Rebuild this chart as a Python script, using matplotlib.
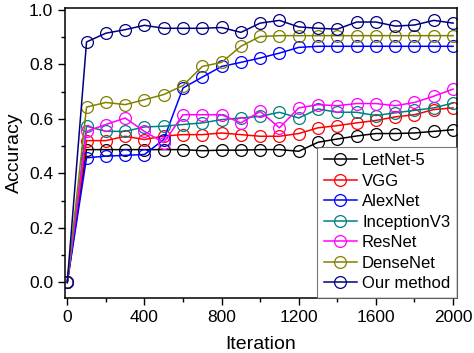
import matplotlib
matplotlib.use("Agg")
import matplotlib.pyplot as plt
from matplotlib.ticker import MultipleLocator, FormatStrFormatter

plt.rcParams["font.family"] = ["Liberation Sans", "DejaVu Sans"]

iterations = [0] + list(range(100, 2001, 100))

letnet = [0.0, 0.487, 0.487, 0.487, 0.487, 0.487, 0.487, 0.483, 0.485, 0.485, 0.487,
          0.487, 0.481, 0.514, 0.526, 0.537, 0.546, 0.546, 0.548, 0.554, 0.560]
vgg = [0.0, 0.520, 0.520, 0.536, 0.524, 0.537, 0.542, 0.542, 0.548, 0.542, 0.536,
       0.536, 0.546, 0.567, 0.575, 0.585, 0.594, 0.607, 0.615, 0.634, 0.640]
alexnet = [0.0, 0.457, 0.463, 0.466, 0.469, 0.524, 0.713, 0.753, 0.792, 0.807, 0.823,
           0.841, 0.862, 0.866, 0.866, 0.866, 0.866, 0.866, 0.866, 0.866, 0.866]
inception = [0.0, 0.573, 0.554, 0.554, 0.570, 0.573, 0.579, 0.585, 0.597, 0.603, 0.609,
             0.624, 0.603, 0.636, 0.624, 0.624, 0.612, 0.622, 0.631, 0.640, 0.658]
resnet = [0.0, 0.554, 0.579, 0.603, 0.554, 0.512, 0.615, 0.615, 0.615, 0.585, 0.627,
          0.567, 0.640, 0.652, 0.648, 0.656, 0.656, 0.648, 0.660, 0.683, 0.709]
densenet = [0.0, 0.643, 0.660, 0.652, 0.670, 0.689, 0.722, 0.792, 0.807, 0.866, 0.902,
            0.905, 0.905, 0.905, 0.905, 0.905, 0.905, 0.905, 0.905, 0.905, 0.905]
ours = [0.0, 0.882, 0.914, 0.927, 0.943, 0.932, 0.932, 0.932, 0.935, 0.917, 0.951,
        0.961, 0.937, 0.932, 0.929, 0.955, 0.955, 0.940, 0.944, 0.961, 0.951]

series = [
    ("LetNet-5", letnet, "#000000"),
    ("VGG", vgg, "#ff0000"),
    ("AlexNet", alexnet, "#0000ff"),
    ("InceptionV3", inception, "#008080"),
    ("ResNet", resnet, "#ff00ff"),
    ("DenseNet", densenet, "#808000"),
    ("Our method", ours, "#000080"),
]

fig = plt.figure(figsize=(4.74, 3.53), dpi=100)
ax = fig.add_axes([0.137, 0.156, 0.827, 0.821])

for label, values, color in series:
    ax.plot(iterations, values, color=color, linewidth=1.1, marker="o", markersize=8.5,
            markerfacecolor="none", markeredgecolor=color, markeredgewidth=0.9, label=label)

ax.set_xlim(-12, 2020)
ax.set_ylim(-0.057, 1.006)
ax.xaxis.set_major_locator(MultipleLocator(400))
ax.xaxis.set_minor_locator(MultipleLocator(200))
ax.yaxis.set_major_locator(MultipleLocator(0.2))
ax.yaxis.set_minor_locator(MultipleLocator(0.1))
ax.yaxis.set_major_formatter(FormatStrFormatter("%.1f"))
ax.tick_params(which="major", direction="out", length=5, width=1, labelsize=12.5)
ax.tick_params(which="minor", direction="out", length=3, width=1)
for spine in ax.spines.values():
    spine.set_linewidth(1.1)

ax.set_xlabel("Iteration", fontsize=14, labelpad=8)
ax.set_ylabel("Accuracy", fontsize=14, labelpad=4)

legend = ax.legend(loc="lower right", fontsize=12, frameon=True, fancybox=False,
                   edgecolor="#555555", borderaxespad=0.0, handlelength=2.0,
                   handletextpad=0.3, labelspacing=0.33, borderpad=0.4)
legend.get_frame().set_linewidth(0.8)

fig.savefig("out.png", dpi=100)
